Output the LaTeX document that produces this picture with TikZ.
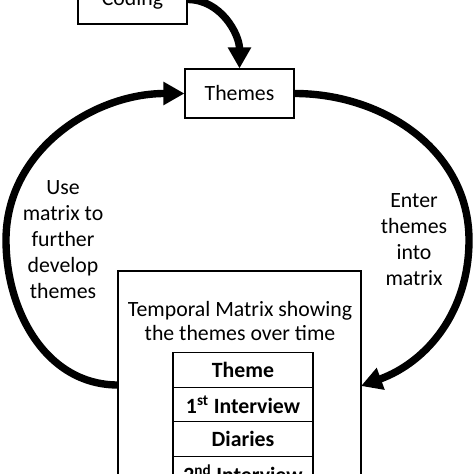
\documentclass[tikz,border=0pt]{standalone}
\usepackage{fontspec}
\setmainfont{Carlito}
\usetikzlibrary{arrows.meta}

\begin{document}
\begin{tikzpicture}[x=0.03cm,y=0.03cm,
 box/.style={draw,line width=0.9pt,minimum width=3.27cm,minimum height=1.47cm,inner sep=0pt},
 flow/.style={-{Triangle[length=6.3mm,width=6.6mm]},line width=6.3pt},
 lab/.style={font=\fontsize{18.6}{22.2}\selectfont,align=center},
 row/.style={draw,line width=0.9pt,minimum width=4.2cm,minimum height=1.04cm,inner sep=0pt,
   font=\fontsize{18.6}{22}\selectfont\bfseries}]
\useasboundingbox (0,0) rectangle (474,474);
% Boxes at the top of the loop.
\node[box,lab] (coding) at (132.5,474.5) {Coding};
\node[box,lab] (themes) at (239.5,380.5) {Themes};
% Temporal matrix with its rows.
\node[draw,line width=0.9pt,minimum width=7.29cm,minimum height=7.77cm] (tmatrix) at (239.5,73.5) {};
\node[lab,font=\fontsize{18.6}{20.5}\selectfont] (title) at (240,153) {Temporal Matrix showing\\the themes over time};
\foreach \i/\y/\txt in {1/104/Theme,2/69.4/{1\textsuperscript{st} Interview},
                       3/34.7/Diaries,4/0/{2\textsuperscript{nd} Interview}}
  \node[row] (row\i) at (243,\y) {\txt};
% Side labels of the loop.
\node[lab] (uselab) at (63,234) {Use\\matrix to\\further\\develop\\themes};
\node[lab] (enterlab) at (414,234) {Enter\\themes\\into\\matrix};
% Loop ends and turning points.
\coordinate (matL) at (118,89);
\coordinate (matR) at (361,88);
\coordinate (lft) at (6,234);
\coordinate (rgt) at (469,234);
\draw[flow] (coding.east) to[out=0,in=90] (themes.north);
\draw[flow] (themes.east) to[out=0,in=90] (rgt) to[out=-90,in=20] (matR);
\draw[flow] (matL) to[out=180,in=-90] (lft) to[out=90,in=180] (themes.west);
\end{tikzpicture}
\end{document}
